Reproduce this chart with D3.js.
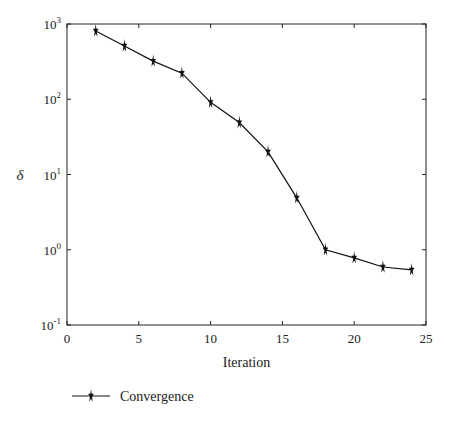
<!DOCTYPE html>
<html><head><meta charset="utf-8">
<script src="https://cdn.jsdelivr.net/npm/d3@7"></script>
<style>body{margin:0;background:#fff}text{font-family:"Liberation Serif",serif;fill:#222}</style>
</head><body><svg id="c" width="474" height="421"></svg>
<script>
const iterations=[2,4,6,8,10,12,14,16,18,20,22,24];
const delta=[807,510,321,222,91,49,20,4.9,1.0,0.78,0.59,0.54];
const xTicks=[0,5,10,15,20,25];
const yTicks=[-1,0,1,2,3];
const svg=d3.select("#c");
const L=67,R=426,T=24,B=325;
const x=d3.scaleLinear().domain([0,25]).range([L,R]);
const y=d3.scaleLog().domain([0.1,1000]).range([B,T]);
svg.append("rect").attr("x",L).attr("y",T).attr("width",R-L).attr("height",B-T).attr("fill","none").attr("stroke","#222");
const g=svg.append("g");
xTicks.forEach(t=>{
  g.append("line").attr("x1",x(t)).attr("x2",x(t)).attr("y1",B).attr("y2",B-4).attr("stroke","#222");
  g.append("line").attr("x1",x(t)).attr("x2",x(t)).attr("y1",T).attr("y2",T+4).attr("stroke","#222");
  g.append("text").attr("x",x(t)).attr("y",B+18).attr("text-anchor","middle").attr("font-size",13).text(t);
});
yTicks.forEach(e=>{
  const v=Math.pow(10,e);
  g.append("line").attr("x1",L).attr("x2",L+4).attr("y1",y(v)).attr("y2",y(v)).attr("stroke","#222");
  g.append("line").attr("x1",R).attr("x2",R-4).attr("y1",y(v)).attr("y2",y(v)).attr("stroke","#222");
  const t=g.append("text").attr("x",L-6).attr("y",y(v)+5).attr("text-anchor","end").attr("font-size",13);
  t.append("tspan").text("10");
  t.append("tspan").attr("dy",-6).attr("font-size",9).text(e);
});
svg.append("text").attr("x",(L+R)/2).attr("y",B+42).attr("text-anchor","middle").attr("font-size",14).text("Iteration");
svg.append("text").attr("x",20).attr("y",(T+B)/2+5).attr("text-anchor","middle").attr("font-size",15).attr("font-style","italic").text("δ");
const line=d3.line().x((d,i)=>x(iterations[i])).y(d=>y(d));
svg.append("path").datum(delta).attr("d",line).attr("fill","none").attr("stroke","#111").attr("stroke-width",1.2);
const star=d3.symbol().type(d3.symbolStar).size(28);
svg.selectAll(".m").data(delta).enter().append("path").attr("d",star).attr("transform",(d,i)=>`translate(${x(iterations[i])},${y(d)}) scale(0.6,1.4)`).attr("fill","#111");
svg.append("line").attr("x1",72).attr("x2",110).attr("y1",396).attr("y2",396).attr("stroke","#111").attr("stroke-width",1.2);
svg.append("path").attr("d",star).attr("transform","translate(91,396) scale(0.6,1.4)").attr("fill","#111");
svg.append("text").attr("x",120).attr("y",401).attr("font-size",14).text("Convergence");
</script></body></html>
